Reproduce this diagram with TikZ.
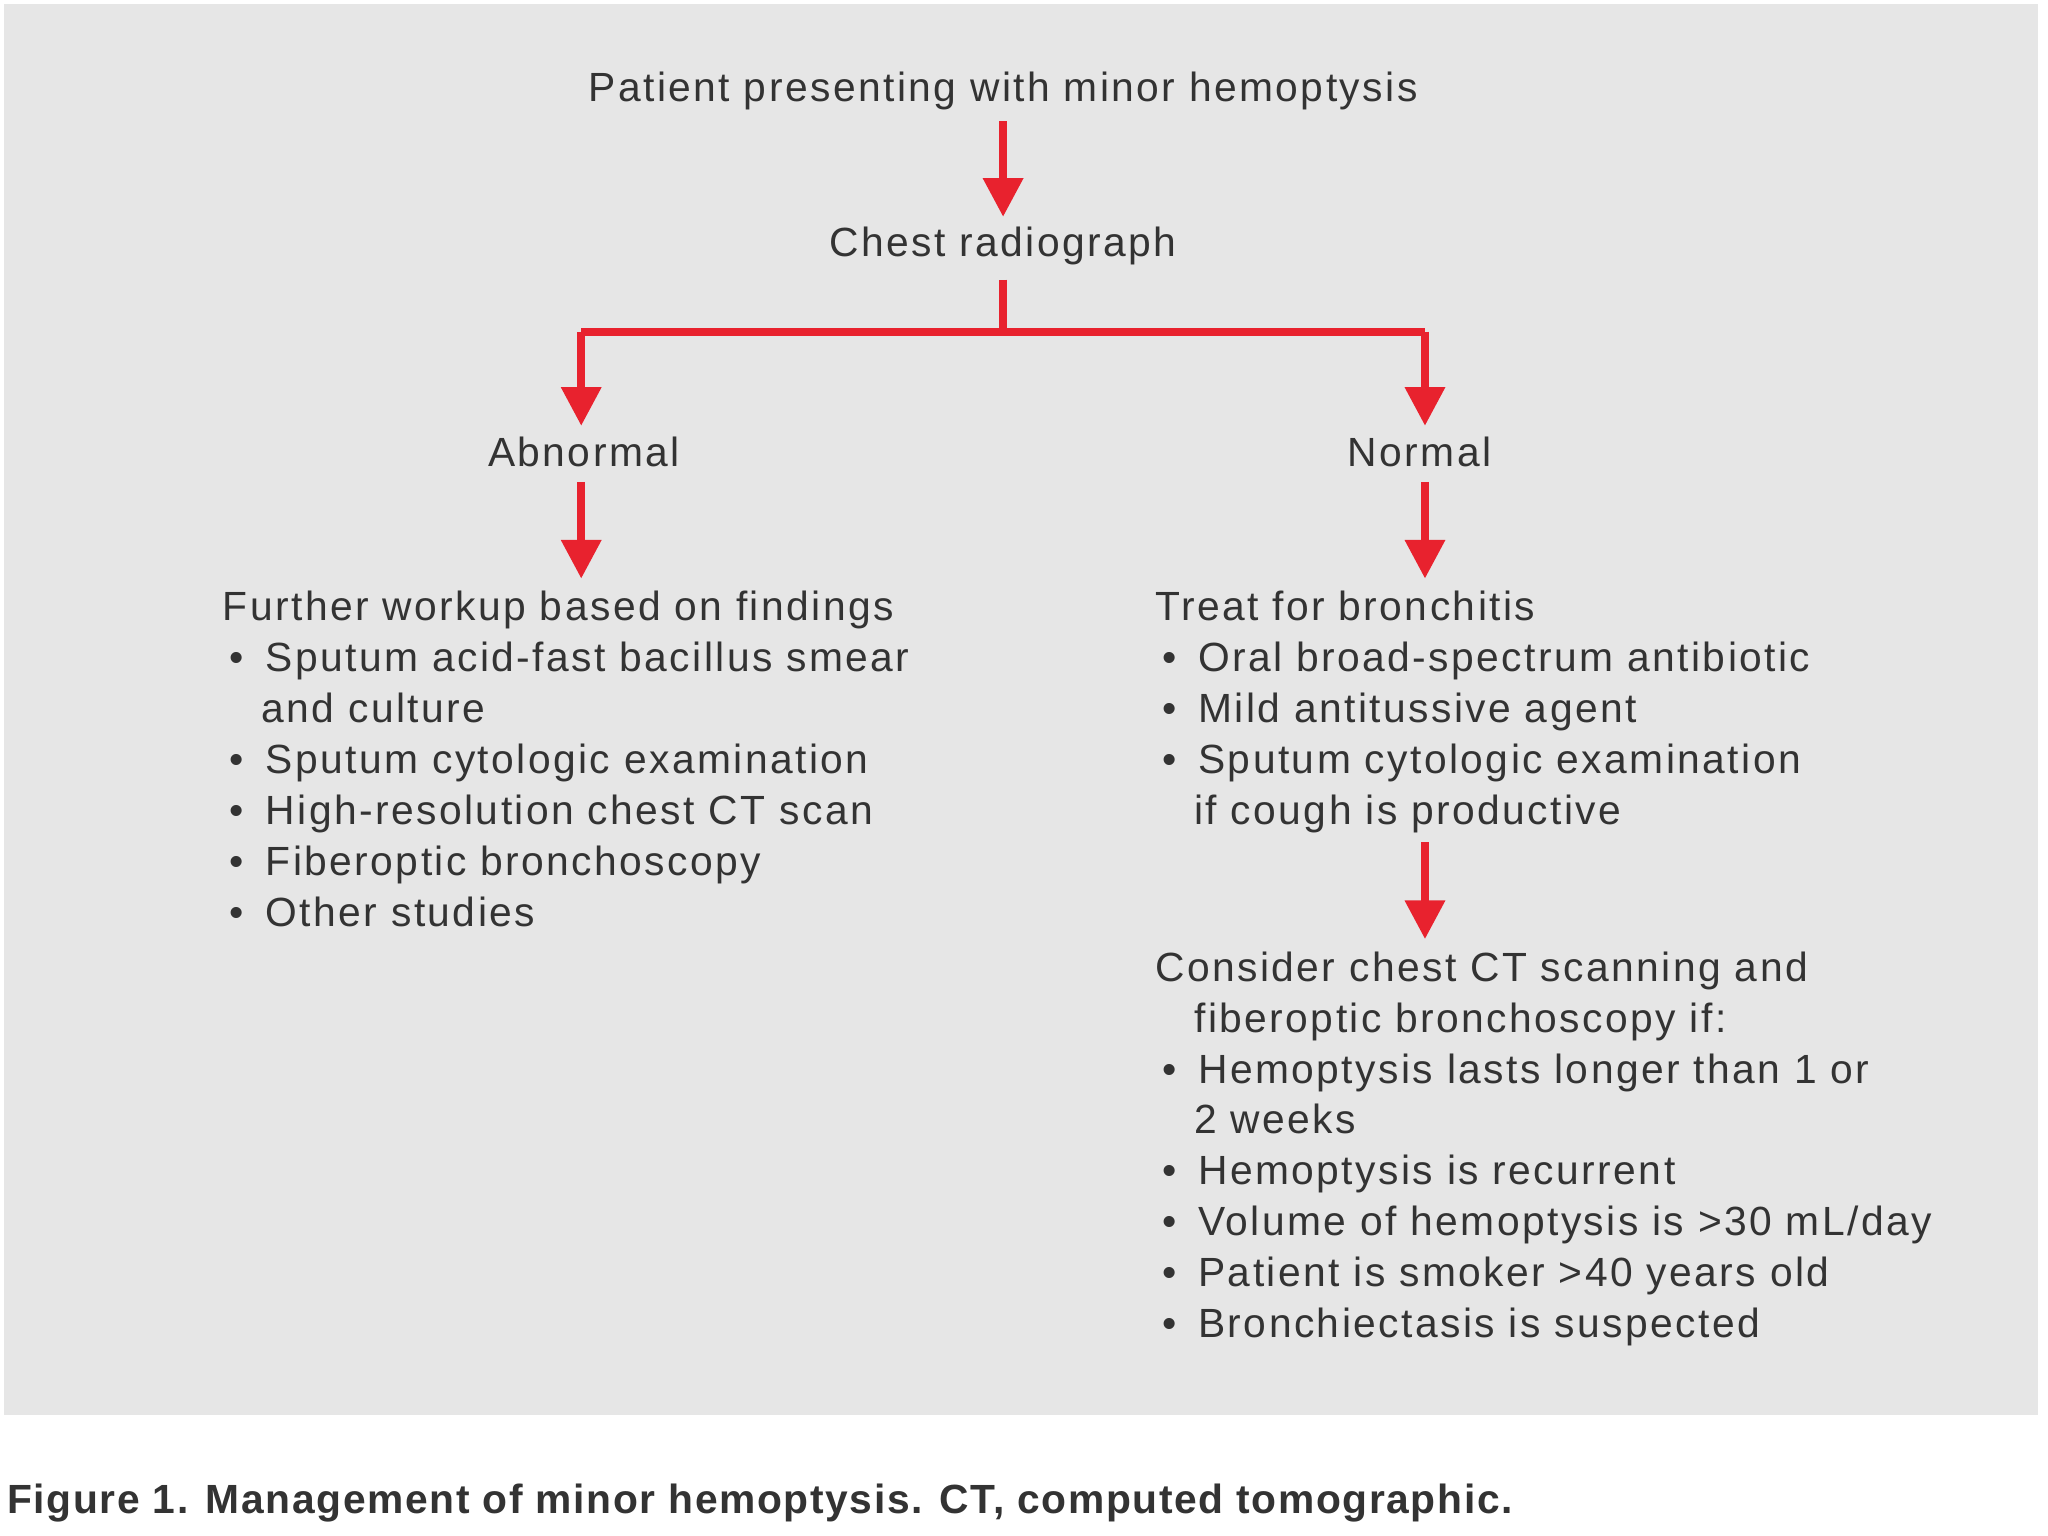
\documentclass[tikz,border=0pt]{standalone}
\usepackage{fontspec}
\setmainfont{Liberation Sans}[LetterSpace=6]
\newfontfamily\capfont{Liberation Sans}[LetterSpace=4]
\usetikzlibrary{arrows.meta}
\definecolor{bg}{HTML}{E6E6E6}
\definecolor{txt}{HTML}{333333}
\definecolor{arr}{HTML}{E8222E}
\newcommand{\bl}[1]{\makebox[0.43cm][l]{\hspace{0.07cm}\textbullet}#1}
\newcommand{\cn}[1]{\hspace{0.39cm}#1}
\begin{document}
\begin{tikzpicture}[x=0.013061cm,y=-0.013061cm,
  t/.style={text=txt,font=\fontsize{11.6pt}{14.5pt}\selectfont,inner sep=0pt},
  lst/.style={t,align=left,anchor=north west},
  a/.style={draw=arr,line width=2.2pt,-{Triangle[length=11pt,width=11pt]}},
  l/.style={draw=arr,line width=2.2pt}]
\useasboundingbox (0,0) rectangle (1568,1176);
\fill[white] (0,0) rectangle (1568,1176);
\fill[bg] (3,3) rectangle (1560,1083);
\node[t] (top) at (768,70) {Patient presenting with minor hemoptysis};
\node[t] (chest) at (768,188) {Chest radiograph};
\node[t] (ab) at (447,346) {Abnormal};
\node[t] (no) at (1087,346) {Normal};
\node[lst] (left) at (170,452) {Further workup based on findings\\
\bl{Sputum acid-fast bacillus smear}\\
\cn{and culture}\\
\bl{Sputum cytologic examination}\\
\bl{High-resolution chest CT scan}\\
\bl{Fiberoptic bronchoscopy}\\
\bl{Other studies}};
\node[lst] (right) at (884,452) {Treat for bronchitis\\
\bl{Oral broad-spectrum antibiotic}\\
\bl{Mild antitussive agent}\\
\bl{Sputum cytologic examination}\\
\cn{if cough is productive}};
\node[lst] (cons) at (884,728) {Consider chest CT scanning and\\
\cn{fiberoptic bronchoscopy if:}\\
\bl{Hemoptysis lasts longer than 1 or}\\
\cn{2 weeks}\\
\bl{Hemoptysis is recurrent}\\
\bl{Volume of hemoptysis is >30 mL/day}\\
\bl{Patient is smoker >40 years old}\\
\bl{Bronchiectasis is suspected}};
\coordinate (j) at (768,254);
\coordinate (jl) at (445,254);
\coordinate (jr) at (1091,254);
\draw[a] (768,93) -- (768,166);
\draw[l] (768,214) -- (j);
\draw[l] (jl) -- (jr);
\draw[a] (jl) -- (445,326);
\draw[a] (jr) -- (1091,326);
\draw[a] (445,369) -- (445,443);
\draw[a] (1091,369) -- (1091,443);
\draw[a] (1091,645) -- (1091,719);
\node[anchor=west,text=txt,font=\capfont\bfseries\fontsize{11.6pt}{14pt}\selectfont,inner sep=0pt] (cap) at (5,1151) {Figure 1. Management of minor hemoptysis. CT, computed tomographic.};
\end{tikzpicture}
\end{document}
